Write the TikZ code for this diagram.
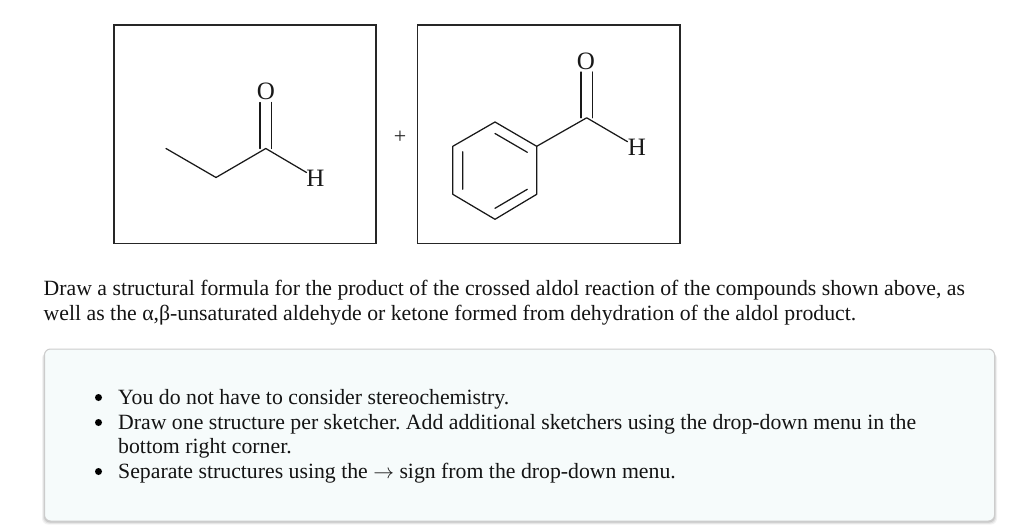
\documentclass[tikz,border=0pt]{standalone}
\usepackage{fontspec}
\setmainfont{Liberation Serif}
\frenchspacing
\begin{document}
\begin{tikzpicture}[x=1pt,y=-1pt,
  frame/.style={draw=black!85,line width=1.3pt},
  bond/.style={draw=black!90,line width=1.25pt,line cap=round,line join=round},
  atom/.style={font=\fontsize{25}{26}\selectfont,inner sep=0pt,text=black!90},
  body/.style={font=\fontsize{21.77}{25}\selectfont,anchor=base west,inner sep=0pt,text=black!92},
  dot/.style={circle,fill=black,inner sep=0pt,minimum size=7pt}]
\useasboundingbox (0,0) rectangle (1024,529);
\fill[white] (0,0) rectangle (1024,529);
% boxes
\draw[frame] (114,25) rectangle (376,243.5);
\draw[frame] (417.5,25) rectangle (680,243.5);
% propanal
\coordinate (a1) at (166,148.5);
\coordinate (a2) at (216,177.5);
\coordinate (a3) at (265.8,148.5);
\coordinate (a3l) at (260,148.5);
\coordinate (a3r) at (271.5,148.5);
\coordinate (aol) at (260,102.5);
\coordinate (aor) at (271.5,102.5);
\coordinate (ah) at (306.5,172.5);
\node[atom] (aO) at (265.8,91.5) {O};
\node[atom] (aH) at (315.3,178) {H};
\draw[bond] (a1) -- (a2) -- (a3) -- (ah);
\draw[bond] (a3l) -- (aol) (a3r) -- (aor);
% plus
\node[font=\fontsize{22}{24}\selectfont,inner sep=0pt,text=black!85] (plus) at (400,137.5) {+};
% benzaldehyde
\coordinate (r1) at (495,122);
\coordinate (r2) at (536.7,146.3);
\coordinate (r3) at (536.7,194.3);
\coordinate (r4) at (495,219.3);
\coordinate (r5) at (452.8,194.3);
\coordinate (r6) at (452.8,146.3);
\coordinate (c) at (586.7,117.8);
\coordinate (cl) at (581,117.8);
\coordinate (cr) at (592.4,117.8);
\coordinate (ol) at (581,72);
\coordinate (or) at (592.4,72);
\coordinate (h) at (627.5,141.7);
\node[atom] (bO) at (586,61) {O};
\node[atom] (bH) at (636.8,147) {H};
\draw[bond] (r1) -- (r2) -- (r3) -- (r4) -- (r5) -- (r6) -- cycle;
\draw[bond] (r2) -- (c) -- (h);
\draw[bond] (cl) -- (ol) (cr) -- (or);
\coordinate (i1) at (495,133.5);
\coordinate (i2) at (527.3,152.3);
\coordinate (i3) at (527.3,189.3);
\coordinate (i4) at (495,208.3);
\coordinate (i5) at (462.8,189.3);
\coordinate (i6) at (462.8,151.7);
\draw[bond] (i1) -- (i2) (i3) -- (i4) (i5) -- (i6);
% question
\node[body] (q1) at (43.5,295.5) {Draw a structural formula for the product of the crossed aldol reaction of the compounds shown above, as};
\node[body] (q2) at (43.5,320.5) {well as the α,β-unsaturated aldehyde or ketone formed from dehydration of the aldol product.};
% panel shadow
\foreach \o/\g in {3.5/0.05,2.5/0.07,1.5/0.10}{
  \fill[black,opacity=\g,rounded corners=6pt] (44.5-\o+1,349+\o) rectangle (994.5+\o-1,521+\o);
}
\draw[draw=black!20,line width=1pt,rounded corners=6pt,fill={rgb,255:red,246;green,251;blue,251}] (44.5,349) rectangle (994.5,521);
\node[dot] (b1) at (98.5,397.5) {};
\node[dot] (b2) at (98.5,422.5) {};
\node[dot] (b3) at (98.5,471.5) {};
\node[body] (t1) at (118,404.3) {You do not have to consider stereochemistry.};
\node[body] (t2) at (118,429) {Draw one structure per sketcher. Add additional sketchers using the drop-down menu in the};
\node[body] (t3) at (118,453.3) {bottom right corner.};
\node[body] (t4) at (118,478.3) {Separate structures using the $\rightarrow$ sign from the drop-down menu.};
\end{tikzpicture}
\end{document}
